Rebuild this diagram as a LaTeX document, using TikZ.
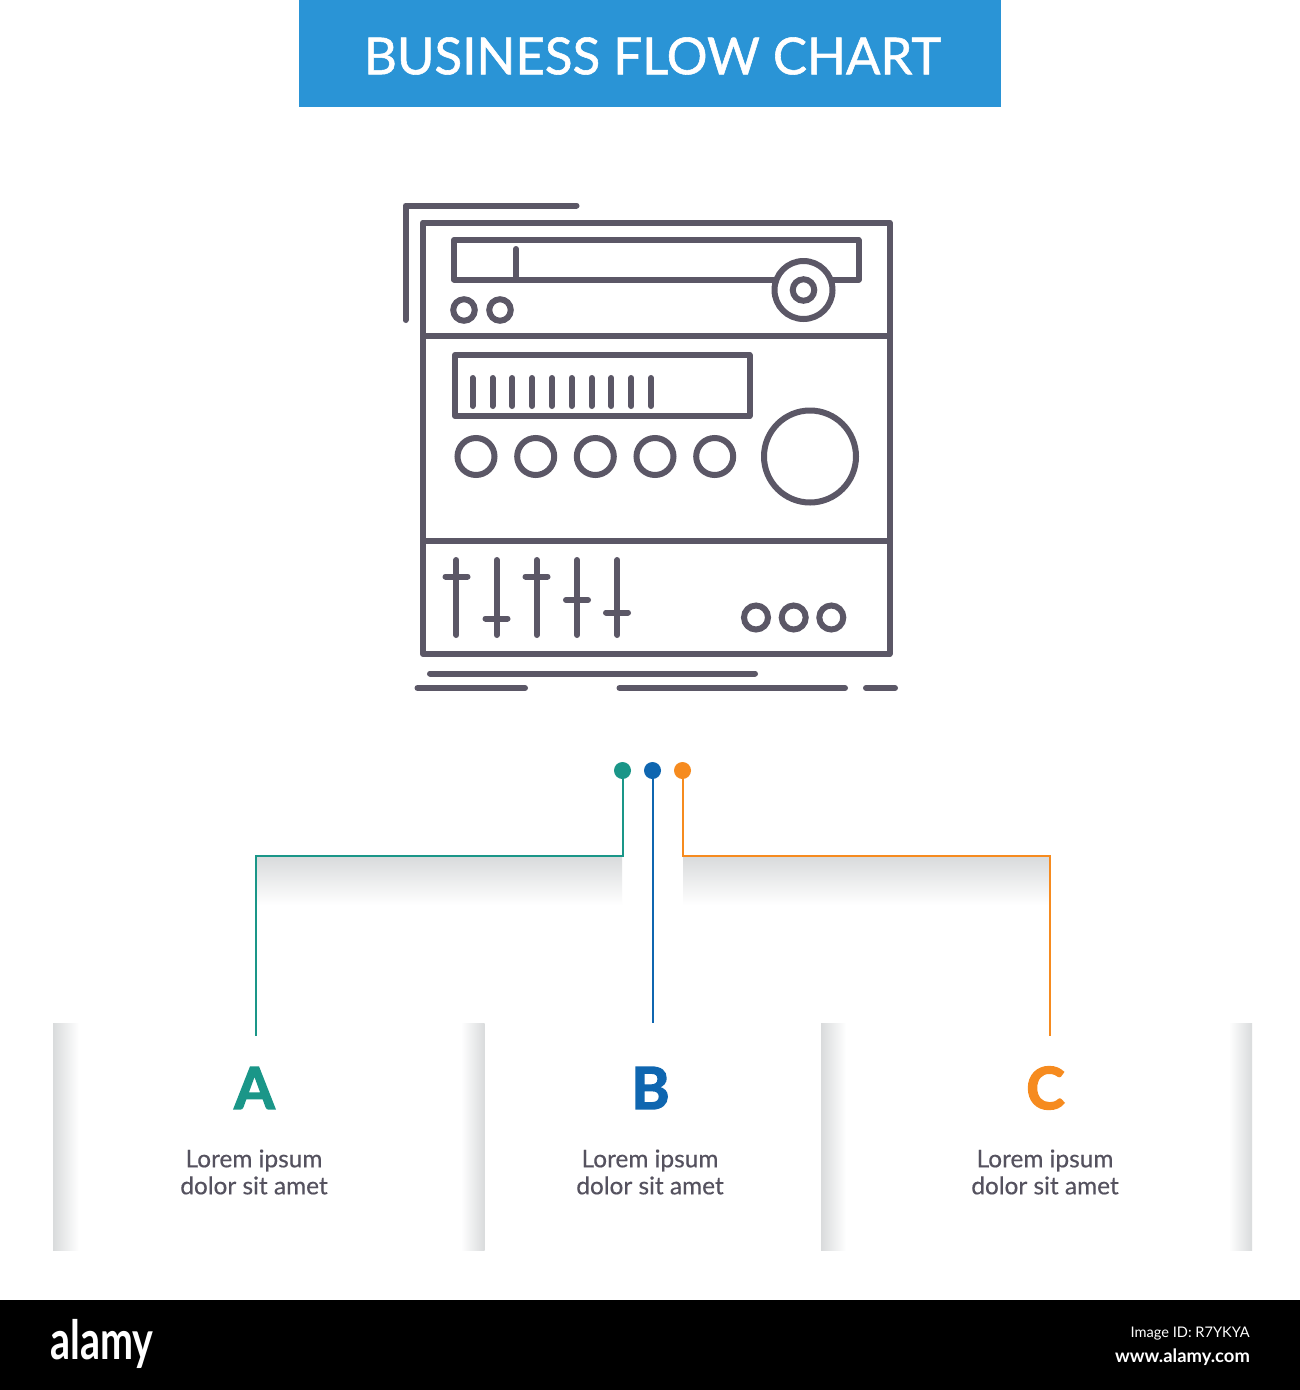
\documentclass[tikz,border=0pt]{standalone}
\usepackage{fontspec}
\setmainfont{Lato}
\newfontfamily\titlefont[FakeBold=1.1]{Lato}
\newfontfamily\letterfont[FakeBold=2.6]{Lato Bold}
\newfontfamily\loremfont[FakeBold=0.4]{Lato}
\usepackage{tikz}
\definecolor{banner}{HTML}{2A94D6}
\definecolor{iconc}{HTML}{5B5766}
\definecolor{textc}{HTML}{55525F}
\definecolor{teal}{HTML}{1A9688}
\definecolor{bluec}{HTML}{0F66B0}
\definecolor{orangec}{HTML}{F68B1F}
\definecolor{shadow}{HTML}{D9DBDC}

\begin{document}
\begin{tikzpicture}[x=1pt,y=-1pt]
	\tikzstyle{ic} = [draw=iconc, line width=6pt, line cap=round, line join=round]
	\tikzstyle{ring} = [circle, draw=iconc, line width=6pt, fill=white, inner sep=0pt]
	\tikzstyle{dot} = [circle, inner sep=0pt, minimum size=17pt]
	\tikzstyle{wire} = [line width=2pt]
	\tikzstyle{letter} = [font=\fontsize{58}{58}\selectfont\letterfont]
	\tikzstyle{lorem} = [align=center, text=textc, font=\fontsize{24.4}{27}\selectfont\loremfont]
	\useasboundingbox (0,0) rectangle (1300,1390);
	\fill [white] (0,0) rectangle (1300,1390);

	\fill [banner] (299,0) rectangle (1001,107);
	\node [text=white, font=\fontsize{51}{51}\selectfont\titlefont] (title) at (652.5,56) {BUSINESS FLOW CHART};

	\draw [ic] (405.5,320) -- (405.5,205.5) -- (576.5,205.5);
	\draw [ic] (423,222.5) rectangle (889.5,654);
	\draw [ic] (423,336) -- (889.5,336);
	\draw [ic] (423,540.5) -- (889.5,540.5);

	\draw [ic] (454,240) rectangle (858.5,279.5);
	\draw [ic] (516,249) -- (516,279.5);
	\node [ring, minimum size=58pt] (disc) at (803.5,290) {};
	\node [ring, minimum size=21.5pt] (hub) at (803.5,290) {};
	\node [ring, minimum size=21.5pt] (b1) at (464,310) {};
	\node [ring, minimum size=21.5pt] (b2) at (500,310) {};

	\draw [ic] (455,355) rectangle (749.5,416);
	\draw [ic] (472.5,378) -- (472.5,406);
	\draw [ic] (492.5,378) -- (492.5,406);
	\draw [ic] (512.3,378) -- (512.3,406);
	\draw [ic] (532.1,378) -- (532.1,406);
	\draw [ic] (552,378) -- (552,406);
	\draw [ic] (571.7,378) -- (571.7,406);
	\draw [ic] (591.6,378) -- (591.6,406);
	\draw [ic] (611.4,378) -- (611.4,406);
	\draw [ic] (631.3,378) -- (631.3,406);
	\draw [ic] (651,378) -- (651,406);

	\node [ring, minimum size=37pt] (k1) at (476,456.5) {};
	\node [ring, minimum size=37pt] (k2) at (535.7,456.5) {};
	\node [ring, minimum size=37pt] (k3) at (595.3,456.5) {};
	\node [ring, minimum size=37pt] (k4) at (655,456.5) {};
	\node [ring, minimum size=37pt] (k5) at (714.7,456.5) {};
	\node [ring, minimum size=92pt] (vol) at (810,456.5) {};

	\draw [ic] (456.3,560) -- (456.3,635);
	\draw [ic] (445.5,576.5) -- (467.5,576.5);
	\draw [ic] (496.7,560) -- (496.7,635);
	\draw [ic] (485.5,618.5) -- (507.5,618.5);
	\draw [ic] (536.7,560) -- (536.7,635);
	\draw [ic] (525.5,576.5) -- (547.5,576.5);
	\draw [ic] (577,560) -- (577,635);
	\draw [ic] (566,600) -- (588,600);
	\draw [ic] (617.3,560) -- (617.3,635);
	\draw [ic] (606,612.5) -- (628,612.5);
	\node [ring, minimum size=24pt] (c1) at (756,617.5) {};
	\node [ring, minimum size=24pt] (c2) at (793.7,617.5) {};
	\node [ring, minimum size=24pt] (c3) at (831.3,617.5) {};

	\draw [ic] (430,673.5) -- (755,673.5);
	\draw [ic] (417.5,688) -- (525,688);
	\draw [ic] (619.5,688) -- (845,688);
	\draw [ic] (866,688) -- (895,688);

	\shade [top color=shadow, bottom color=white] (256,857) rectangle (622,905);
	\shade [top color=shadow, bottom color=white] (683,857) rectangle (1049,905);

	\shade [left color=shadow, right color=white] (53,1023) rectangle (79,1250);
	\shade [left color=white, right color=shadow] (461,1023) rectangle (484.5,1250);
	\shade [left color=shadow, right color=white] (821,1023) rectangle (846,1250);
	\shade [left color=white, right color=shadow] (1229,1023) rectangle (1252,1250);

	\node [dot, fill=teal] (dota) at (622.5,770.5) {};
	\node [dot, fill=bluec] (dotb) at (652.5,770.5) {};
	\node [dot, fill=orangec] (dotc) at (682.5,770.5) {};
	\coordinate (turna) at (255.5,856);
	\coordinate (turnc) at (1049.5,856);
	\coordinate (enda) at (255.5,1036);
	\coordinate (endb) at (652.5,1023);
	\coordinate (endc) at (1049.5,1036);
	\draw [wire, teal] (dota) |- (turna) -- (enda);
	\draw [wire, bluec] (dotb) -- (endb);
	\draw [wire, orangec] (dotc) |- (turnc) -- (endc);

	\node [letter, text=teal] (a) at (254.5,1088) {A};
	\node [letter, text=bluec] (b) at (650.5,1088) {B};
	\node [letter, text=orangec] (c) at (1045.5,1088) {C};
	\node [lorem] (ta) at (254,1172) {Lorem ipsum\\dolor sit amet};
	\node [lorem] (tb) at (650,1172) {Lorem ipsum\\dolor sit amet};
	\node [lorem] (tc) at (1045,1172) {Lorem ipsum\\dolor sit amet};

	\fill [black] (0,1300) rectangle (1300,1390);
	\node [text=white, font=\fontsize{54}{54}\selectfont\bfseries, anchor=base west, inner sep=0pt] (logo) at (50,1359) {\scalebox{.73}[1]{alamy}};
	\node [text=white, font=\fontsize{14.6}{14.6}\selectfont, anchor=base east, inner sep=0pt] (imgid) at (1250,1337) {Image ID: R7YKYA};
	\node [text=white, font=\fontsize{18.4}{18.4}\selectfont\bfseries, anchor=base east, inner sep=0pt] (site) at (1250,1362) {www.alamy.com};
\end{tikzpicture}
\end{document}
